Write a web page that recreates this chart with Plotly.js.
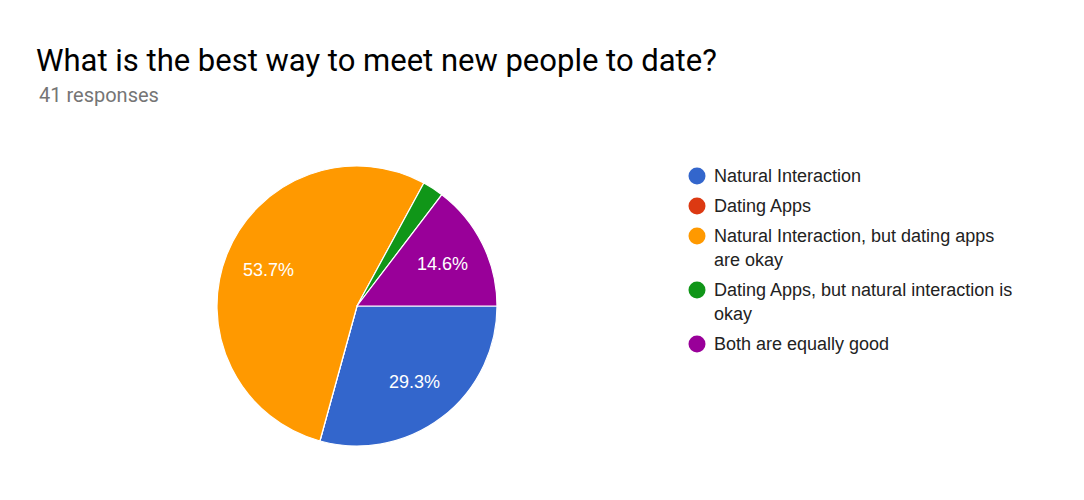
<!DOCTYPE html>
<html>
<head>
<meta charset="utf-8">
<script src="https://cdn.plot.ly/plotly-3.0.1.min.js"></script>
<style>
  html, body { margin: 0; padding: 0; background: #fff; }
  #chart { width: 1084px; height: 500px; }
</style>
</head>
<body>
<div id="chart"></div>
<script>
// answers and counts (41 responses)
const answers = [
    "Natural Interaction",
    "Dating Apps",
    "Natural Interaction, but dating apps are okay",
    "Dating Apps, but natural interaction is okay",
    "Both are equally good"
];
const legendLines = [
    ["Natural Interaction"],
    ["Dating Apps"],
    ["Natural Interaction, but dating apps", "are okay"],
    ["Dating Apps, but natural interaction is", "okay"],
    ["Both are equally good"]
];
const counts = [12, 0, 22, 1, 6];
const colors = ["#3366cc", "#dc3912", "#ff9900", "#109618", "#990099"];

const W = 1084, H = 500;
const total = counts.reduce(function (a, b) { return a + b; }, 0);

// pie box in pixels
const cx = 357, cy = 306, R = 140;

const pie = {
    type: "pie",
    labels: answers,
    values: counts,
    textinfo: "none",
    marker: { colors: colors, line: { color: "#ffffff", width: 1.2 } },
    sort: false,
    direction: "clockwise",
    rotation: 90,
    showlegend: false,
    hoverinfo: "label+value+percent",
    domain: { x: [(cx - R) / W, (cx + R) / W], y: [1 - (cy + R) / H, 1 - (cy - R) / H] }
};

const shapes = [];
const annotations = [
    {
        text: "41 responses", xref: "paper", yref: "paper",
        x: 37 / W, y: 1 - 95 / H, xanchor: "left", yanchor: "middle",
        showarrow: false, font: { family: "Roboto", size: 20, color: "#757575" }
    }
];

// percent labels like google forms: at ~0.68 of radius on the slice middle, small slices get none
let start = 90;
for (let i = 0; i < counts.length; i++) {
    const sweep = 360 * counts[i] / total;
    const mid = (start + sweep / 2) * Math.PI / 180;
    start += sweep;
    if (counts[i] / total < 0.05) continue;
    annotations.push({
        text: (100 * counts[i] / total).toFixed(1) + "%",
        xref: "paper", yref: "paper",
        x: (cx + 0.68 * R * Math.sin(mid)) / W,
        y: 1 - (cy - 0.68 * R * Math.cos(mid)) / H,
        xanchor: "center", yanchor: "middle", showarrow: false,
        font: { family: "Liberation Sans, Arial, sans-serif", size: 18, color: "#ffffff" }
    });
}

// legend drawn by hand so it looks like the forms chart (round dots, wrapped text)
let rowY = 176;
for (let i = 0; i < answers.length; i++) {
    shapes.push({
        type: "circle", xref: "paper", yref: "paper",
        xsizemode: "pixel", ysizemode: "pixel",
        xanchor: 697 / W, yanchor: 1 - rowY / H,
        x0: -8.5, x1: 8.5, y0: -8.5, y1: 8.5,
        fillcolor: colors[i], line: { width: 0 }
    });
    legendLines[i].forEach(function (line, j) {
        annotations.push({
            text: line, xref: "paper", yref: "paper",
            x: 712 / W, y: 1 - (rowY + j * 24) / H,
            xanchor: "left", yanchor: "middle", showarrow: false,
            font: { family: "Liberation Sans, Arial, sans-serif", size: 18, color: "#222222" }
        });
    });
    rowY += 30 + (legendLines[i].length - 1) * 24;
}

const layout = {
    width: W,
    height: H,
    margin: { l: 0, r: 0, t: 0, b: 0 },
    paper_bgcolor: "#ffffff",
    title: {
        text: "What is the best way to meet new people to date?",
        xref: "paper", yref: "paper",
        x: 36 / W, y: 1 - 60 / H, xanchor: "left", yanchor: "middle",
        font: { family: "Roboto", size: 31, color: "#000000" }
    },
    shapes: shapes,
    annotations: annotations,
    showlegend: false
};

Plotly.newPlot("chart", [pie], layout, { displayModeBar: false, staticPlot: true });
</script>
</body>
</html>
